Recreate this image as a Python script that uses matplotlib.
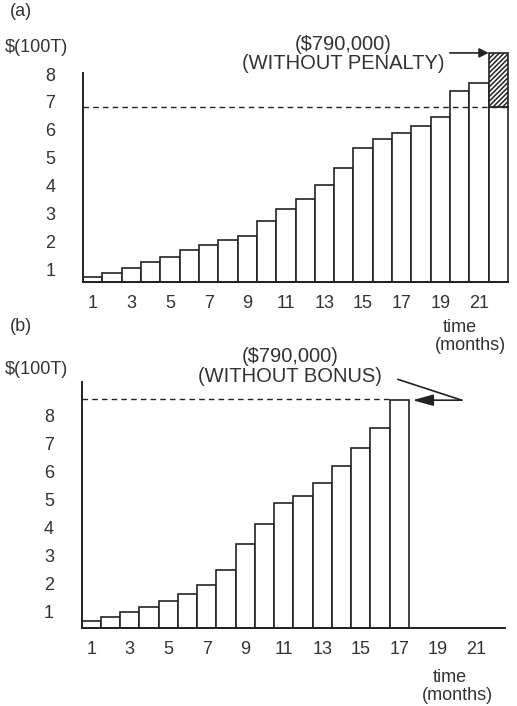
import matplotlib
matplotlib.use("Agg")
import matplotlib.pyplot as plt

# ---- data (values in $100T) ----
months_a = list(range(1, 23))
cost_a = [0.71, 0.86, 1.06, 1.25, 1.45, 1.69, 1.85, 2.03, 2.20, 2.74, 3.15,
          3.53, 4.01, 4.63, 5.35, 5.66, 5.89, 6.15, 6.47, 7.38, 7.69, 8.76]
penalty_level = 6.81          # dashed line, panel (a)

months_b = list(range(1, 18))
cost_b = [0.65, 0.80, 0.97, 1.15, 1.37, 1.61, 1.92, 2.46, 3.40, 4.10, 4.85,
          5.12, 5.57, 6.19, 6.83, 7.54, 8.54]
bonus_level = 8.58            # dashed line, panel (b)

ytick_vals = list(range(1, 9))
xtick_vals = list(range(1, 22, 2))

note_a = "($790,000)\n(WITHOUT PENALTY)"
note_b = "($790,000)\n(WITHOUT BONUS)"

plt.rcParams['font.family'] = ['Liberation Sans', 'DejaVu Sans']
plt.rcParams['hatch.linewidth'] = 1.1

INK = '#222222'
TXT = '#333333'
W, H = 517, 706


def px_axes(fig, left, right, bottom, top):
    return fig.add_axes([left / W, 1 - bottom / H, (right - left) / W, (bottom - top) / H])


def ftext(fig, x, y, s, size=13, **kw):
    fig.text(x / W, 1 - y / H, s, color=TXT, fontsize=size, **kw)


def style(ax, base, ytop):
    ax.set_xlim(0.5, 22.5)
    ax.set_ylim(base, ytop)
    for s in ('top', 'right'):
        ax.spines[s].set_visible(False)
    for s in ('left', 'bottom'):
        ax.spines[s].set_linewidth(1.4)
        ax.spines[s].set_color(INK)
    ax.set_yticks(ytick_vals)
    ax.set_xticks(xtick_vals)
    ax.tick_params(axis='y', length=0, pad=20, labelsize=13, labelcolor=TXT)
    ax.tick_params(axis='x', length=0, pad=9, labelsize=13, labelcolor=TXT)
    ax.patch.set_alpha(0)


fig = plt.figure(figsize=(W / 100, H / 100), dpi=100)

# ---- panel (a) ----
base_a = 0.54
ax = px_axes(fig, 83, 508, 282, 72.7)
style(ax, base_a, 8.05)
lower = [min(c, penalty_level) if m == months_a[-1] else c for m, c in zip(months_a, cost_a)]
ax.bar(months_a, [v - base_a for v in lower], bottom=base_a, width=1.0,
       color='white', edgecolor=INK, linewidth=1.2, clip_on=False, zorder=2)
ax.bar(months_a[-1], cost_a[-1] - penalty_level, bottom=penalty_level, width=1.0,
       color='white', edgecolor=INK, hatch='///////', linewidth=1.2, clip_on=False, zorder=2)
ax.plot([0.5, 22.5], [penalty_level, penalty_level], color=INK, lw=1.0,
        ls=(0, (4, 3)), zorder=3, clip_on=False)
ax.annotate('', xy=(months_a[-1] - 0.5, cost_a[-1]), xytext=(-28, 0),
            textcoords='offset points', annotation_clip=False,
            arrowprops=dict(arrowstyle='-|>', mutation_scale=14, lw=1.2,
                            color=INK, shrinkA=0, shrinkB=0))
ftext(fig, 343, 54, note_a, size=14.5, ha='center', va='center', linespacing=1.05)
ftext(fig, 460, 327, 'time', ha='center', va='center')
ftext(fig, 470, 345, '(months)', ha='center', va='center')
ftext(fig, 10, 12, '(a)', ha='left', va='center')
ftext(fig, 5, 47, '$(100T)', ha='left', va='center')

# ---- panel (b) ----
base_b = 0.40
ax = px_axes(fig, 81.7, 505, 628, 382)
style(ax, base_b, 9.19)
ax.bar(months_b, [v - base_b for v in cost_b], bottom=base_b, width=1.0,
       color='white', edgecolor=INK, linewidth=1.2, clip_on=False, zorder=2)
ax.plot([0.5, months_b[-1] - 0.5], [bonus_level, bonus_level], color=INK, lw=1.0,
        ls=(0, (4, 3)), zorder=3)
tail = (months_b[-1] + 0.5 + 53 / 19.25, cost_b[-1])
ax.annotate('', xy=(months_b[-1] + 0.5 + 0.2, cost_b[-1]), xytext=tail,
            annotation_clip=False,
            arrowprops=dict(arrowstyle='-|>,head_length=0.9,head_width=0.25',
                            mutation_scale=14, lw=1.2, color=INK,
                            shrinkA=0, shrinkB=0))
ax.annotate('', xy=tail, xytext=(-46, 15), textcoords='offset points',
            annotation_clip=False,
            arrowprops=dict(arrowstyle='-', lw=1.2, color=INK, shrinkA=0, shrinkB=0))
ftext(fig, 290, 366.5, note_b, size=14.5, ha='center', va='center', linespacing=1.05)
ftext(fig, 450, 677, 'time', ha='center', va='center')
ftext(fig, 457, 695, '(months)', ha='center', va='center')
ftext(fig, 10, 326, '(b)', ha='left', va='center')
ftext(fig, 5, 370, '$(100T)', ha='left', va='center')

fig.savefig('out.png', dpi=100, facecolor='white')
